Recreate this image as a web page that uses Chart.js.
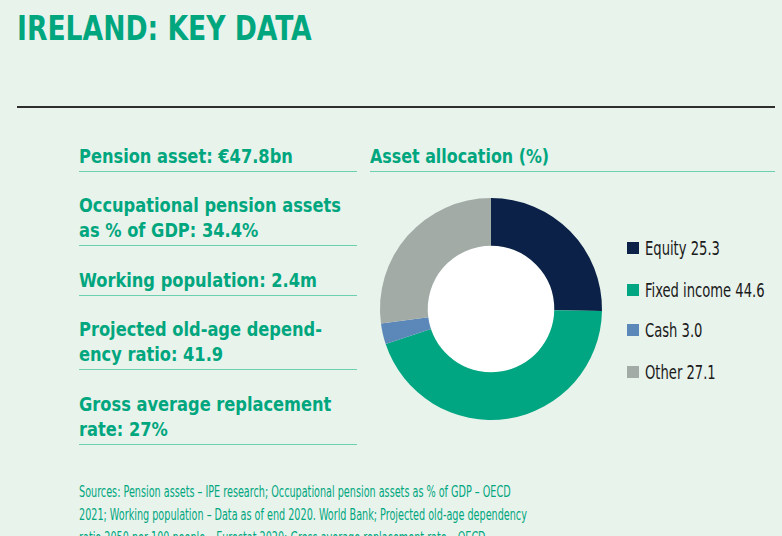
<!DOCTYPE html>
<html>
<head>
<meta charset="utf-8">
<script src="https://cdn.jsdelivr.net/npm/chart.js@4.4.1/dist/chart.umd.min.js"></script>
<style>
  body { margin: 0; background: #e8f3ec; width: 782px; height: 536px; overflow: hidden; position: relative; font-family: "DejaVu Sans Condensed", sans-serif; }
  .abs { position: absolute; }
  .sq { display: inline-block; transform-origin: 0 0; white-space: nowrap; }
  #title { left: 17px; top: 8px; font: bold 34px "DejaVu Sans Condensed", sans-serif; color: #00a67e; }
  #title .sq { transform: scaleX(0.87); }
  #rule { left: 17px; top: 106px; width: 758px; height: 2px; background: #2e2e2e; }
  .stat { left: 79px; width: 278px; color: #00a67e; font: bold 19px/25px "DejaVu Sans Condensed", sans-serif; border-bottom: 1.5px solid #6ccfb0; padding-bottom: 2px; }
  .stat .sq { transform: scaleX(0.95); }
  #subhead { left: 370px; top: 144px; width: 405px; color: #00a67e; font: bold 19px/25px "DejaVu Sans Condensed", sans-serif; border-bottom: 1.5px solid #6ccfb0; padding-bottom: 2px; }
  #subhead .sq { transform: scaleX(0.93); }
  #chartBox { left: 370px; top: 188px; width: 242px; height: 242px; }
  .leg { left: 627px; font: 20px "DejaVu Sans Condensed", sans-serif; color: #1a1a1a; display: flex; align-items: center; height: 22px; white-space: nowrap; }
  .leg span.box { width: 12px; height: 12px; margin-right: 6px; display: inline-block; flex: none; }
  .leg .sq { transform: scaleX(0.73); transform-origin: 0 50%; }
  #sources { left: 79px; top: 481px; color: #00a67e; font: 15px/23px "DejaVu Sans Condensed", sans-serif; }
  #sources .sq { transform: scaleX(0.715); }
</style>
</head>
<body>
<div id="title" class="abs"><span class="sq">IRELAND: KEY DATA</span></div>
<div id="rule" class="abs"></div>
<div id="stats"></div>
<div id="subhead" class="abs"><span class="sq">Asset allocation (%)</span></div>
<div id="chartBox" class="abs"><canvas id="donut" width="242" height="242"></canvas></div>
<div id="legend"></div>
<div id="sources" class="abs"><span class="sq">Sources: Pension assets – IPE research; Occupational pension assets as % of GDP – OECD<br>2021; Working population – Data as of end 2020. World Bank; Projected old-age dependency<br>ratio 2050 per 100 people – Eurostat 2020; Gross average replacement rate – OECD</span></div>
<script>
const categories = ['Equity', 'Fixed income', 'Cash', 'Other'];
const allocation = [25.3, 44.6, 3.0, 27.1];
const sliceColors = ['#0b2147', '#00a681', '#5b88b9', '#a3aba7'];

const statLines = [
  ['Pension asset: €47.8bn'],
  ['Occupational pension assets', 'as % of GDP: 34.4%'],
  ['Working population: 2.4m'],
  ['Projected old-age depend-', 'ency ratio: 41.9'],
  ['Gross average replacement', 'rate: 27%']
];
const statTops = [144, 193, 268, 317, 392];

const statsEl = document.getElementById('stats');
statLines.forEach((lines, i) => {
  const d = document.createElement('div');
  d.className = 'abs stat';
  d.style.top = statTops[i] + 'px';
  d.innerHTML = '<span class="sq">' + lines.join('<br>') + '</span>';
  statsEl.appendChild(d);
});

const legendTops = [237, 279, 319, 361];
const legendEl = document.getElementById('legend');
categories.forEach((c, i) => {
  const d = document.createElement('div');
  d.className = 'abs leg';
  d.style.top = legendTops[i] + 'px';
  d.innerHTML = '<span class="box" style="background:' + sliceColors[i] + '"></span>' +
    '<span class="sq">' + c + ' ' + allocation[i].toFixed(1) + '</span>';
  legendEl.appendChild(d);
});

// white hole in the middle of the ring
const whiteHole = {
  id: 'whiteHole',
  beforeDatasetsDraw(chart) {
    const arc = chart.getDatasetMeta(0).data[0];
    if (!arc) return;
    const ctx = chart.ctx;
    ctx.save();
    ctx.fillStyle = '#ffffff';
    ctx.beginPath();
    ctx.arc(arc.x, arc.y, arc.innerRadius, 0, Math.PI * 2);
    ctx.fill();
    ctx.restore();
  }
};

new Chart(document.getElementById('donut'), {
  type: 'doughnut',
  data: {
    labels: categories,
    datasets: [{
      data: allocation,
      backgroundColor: sliceColors,
      borderWidth: 0
    }]
  },
  options: {
    responsive: false,
    animation: false,
    cutout: '57%',
    layout: { padding: 10 },
    plugins: { legend: { display: false }, tooltip: { enabled: false } }
  },
  plugins: [whiteHole]
});
</script>
</body>
</html>
